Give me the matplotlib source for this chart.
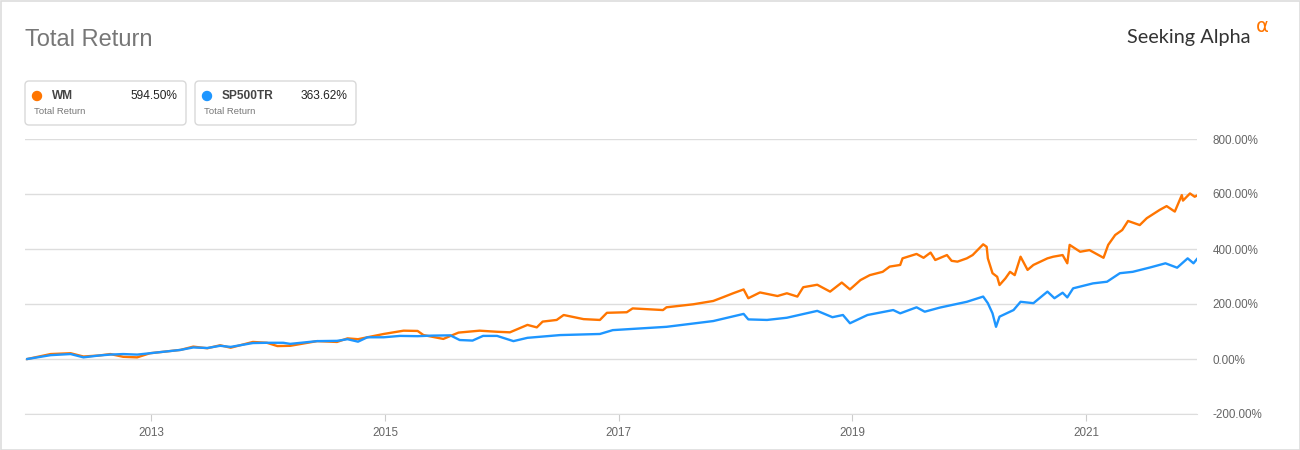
import matplotlib
matplotlib.use("Agg")
import matplotlib.pyplot as plt
from matplotlib.patches import FancyBboxPatch, Rectangle, Circle

plt.rcParams['font.family'] = ['Liberation Sans', 'DejaVu Sans']

# --- data (fractional year, total return in %) ---
wm_years = [2011.94, 2012.14, 2012.31, 2012.42, 2012.56, 2012.65, 2012.76, 2012.88, 2012.99,
            2013.25, 2013.36, 2013.48, 2013.59, 2013.68, 2013.87, 2013.99, 2014.08, 2014.19,
            2014.42, 2014.59, 2014.68, 2014.77, 2014.85, 2014.99, 2015.16, 2015.28, 2015.33,
            2015.50, 2015.63, 2015.81, 2015.96, 2016.07, 2016.22, 2016.30, 2016.35, 2016.47,
            2016.53, 2016.70, 2016.84, 2016.90, 2017.07, 2017.12, 2017.38, 2017.41, 2017.64,
            2017.81, 2017.89, 2017.98, 2018.07, 2018.11, 2018.21, 2018.36, 2018.44, 2018.53,
            2018.58, 2018.70, 2018.81, 2018.91, 2018.98, 2019.07, 2019.15, 2019.26, 2019.32,
            2019.41, 2019.43, 2019.55, 2019.61, 2019.67, 2019.71, 2019.81, 2019.85, 2019.90,
            2019.98, 2020.03, 2020.12, 2020.15, 2020.16, 2020.20, 2020.24, 2020.26, 2020.31,
            2020.35, 2020.39, 2020.44, 2020.50, 2020.55, 2020.67, 2020.72, 2020.80, 2020.84,
            2020.86, 2020.95, 2021.03, 2021.15, 2021.19, 2021.25, 2021.31, 2021.36, 2021.46,
            2021.52, 2021.63, 2021.69, 2021.76, 2021.82, 2021.83, 2021.89, 2021.93, 2021.95]
wm_ret = [0, 18, 21, 9, 13, 18, 8, 6, 21,
          33, 45, 39, 50, 41, 62, 59, 47, 48,
          65, 62, 75, 72, 79, 91, 103, 102, 87,
          73, 96, 103, 99, 97, 124, 115, 136, 142,
          160, 145, 142, 168, 170, 184, 178, 188, 199,
          211, 224, 239, 253, 221, 242, 229, 239, 227,
          261, 270, 245, 278, 253, 287, 305, 317, 336,
          342, 366, 382, 368, 387, 360, 378, 357, 354,
          366, 378, 417, 408, 366, 312, 299, 269, 293,
          317, 305, 372, 324, 342, 366, 372, 378, 348,
          415, 390, 396, 368, 415, 451, 469, 502, 487,
          512, 542, 556, 536, 596, 576, 602, 590, 594.50]

sp_years = [2011.94, 2012.14, 2012.31, 2012.42, 2012.56, 2012.65, 2012.76, 2012.88, 2012.99,
            2013.25, 2013.36, 2013.48, 2013.59, 2013.68, 2013.87, 2013.99, 2014.13, 2014.19,
            2014.42, 2014.59, 2014.68, 2014.77, 2014.85, 2014.99, 2015.13, 2015.28, 2015.40,
            2015.56, 2015.64, 2015.75, 2015.84, 2015.96, 2016.10, 2016.22, 2016.50, 2016.84,
            2016.95, 2017.41, 2017.81, 2018.07, 2018.11, 2018.27, 2018.44, 2018.70, 2018.83,
            2018.92, 2018.98, 2019.13, 2019.35, 2019.41, 2019.55, 2019.62, 2019.75, 2019.98,
            2020.12, 2020.16, 2020.20, 2020.23, 2020.26, 2020.38, 2020.44, 2020.55, 2020.67,
            2020.73, 2020.80, 2020.84, 2020.89, 2021.06, 2021.18, 2021.29, 2021.40, 2021.55,
            2021.68, 2021.78, 2021.87, 2021.92, 2021.95]
sp_ret = [0, 14, 18, 6, 13, 16, 18, 16, 21,
          33, 42, 40, 48, 44, 58, 59, 59, 55,
          65, 66, 72, 63, 79, 79, 84, 83, 85,
          86, 69, 67, 84, 84, 65, 77, 87, 91,
          105, 117, 138, 164, 144, 142, 150, 175, 152,
          160, 130, 160, 178, 166, 188, 172, 187, 208,
          227, 203, 166, 117, 154, 178, 208, 203, 245,
          221, 241, 224, 257, 275, 281, 312, 317, 333,
          348, 332, 366, 348, 363.62]

series_names = ['WM', 'SP500TR']
series_colors = ['#ff7500', '#1e96ff']
x_ticks = [2013, 2015, 2017, 2019, 2021]
y_ticks = [-200, 0, 200, 400, 600, 800]

fig = plt.figure(figsize=(13, 4.5), dpi=100)
fig.patch.set_facecolor('white')

ax = fig.add_axes([25 / 1300, 36 / 450, 1172 / 1300, 275 / 450])
ax.plot(wm_years, wm_ret, color=series_colors[0], lw=1.7, zorder=3)
ax.plot(sp_years, sp_ret, color=series_colors[1], lw=1.7, zorder=4)

ax.set_xlim(wm_years[0] - 0.02, wm_years[-1])
ax.set_ylim(-200, 800)
ax.set_yticks(y_ticks)
ax.set_yticklabels([f'{v:.2f}%' for v in y_ticks])
ax.set_xticks(x_ticks)
ax.set_xticklabels([str(v) for v in x_ticks])
ax.yaxis.tick_right()
ax.grid(axis='y', color='#dddddd', lw=1)
for s in ['top', 'left', 'right']:
    ax.spines[s].set_visible(False)
ax.spines['bottom'].set_color('#dddddd')
ax.tick_params(axis='y', length=0, pad=11, labelsize=8.4, labelcolor='#666666')
ax.tick_params(axis='x', length=5, color='#cccccc', pad=4, labelsize=8.4, labelcolor='#666666')
for lab in ax.get_yticklabels():
    lab.set_horizontalalignment('left')
ax.set_axisbelow(True)

# overlay in pixel units for title, legend boxes, logo and border
ov = fig.add_axes([0, 0, 1, 1], zorder=-1)
ov.set_xlim(0, 1300)
ov.set_ylim(450, 0)
ov.axis('off')

ov.add_patch(Rectangle((0.5, 0.5), 1299, 449, fill=False, ec='#dddddd', lw=1.2))
ov.text(25, 40, 'Total Return', fontsize=17, color='#777777', ha='left', va='center')

ov.text(1127, 38, 'Seeking Alpha', fontsize=14.3, color='#333333', ha='left', va='center',
        family=['Lato', 'DejaVu Sans'])
ov.text(1256, 27, 'α', fontsize=14, color='#ff7500', ha='left', va='center',
        family=['DejaVu Sans'])

finals = [wm_ret[-1], sp_ret[-1]]
for i, (name, col, val) in enumerate(zip(series_names, series_colors, finals)):
    x0 = 25 + i * 170
    ov.add_patch(FancyBboxPatch((x0, 81), 161, 44, boxstyle='round,pad=0,rounding_size=4',
                                fc='white', ec='#d9d9d9', lw=1))
    ov.add_patch(Circle((x0 + 12, 96), 4.5, color=col))
    ov.text(x0 + 27, 96, name, fontsize=8.6, fontweight='bold', color='#444444',
            ha='left', va='center')
    ov.text(x0 + 152, 96, f'{val:.2f}%', fontsize=8.6, color='#222222',
            ha='right', va='center')
    ov.text(x0 + 9, 112, 'Total Return', fontsize=6.8, color='#777777',
            ha='left', va='center')

fig.savefig('out.png', dpi=100, facecolor='white')
